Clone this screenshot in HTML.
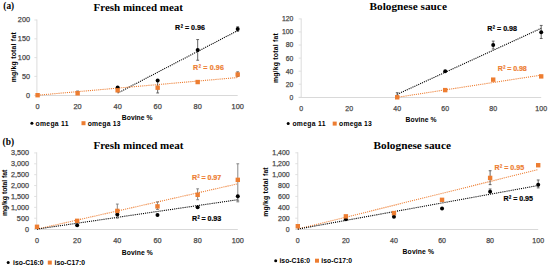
<!DOCTYPE html>
<html><head><meta charset="utf-8"><style>
html,body{margin:0;padding:0;background:#fff;width:550px;height:269px;overflow:hidden}
svg{display:block}
</style></head><body>
<svg width="550" height="269" viewBox="0 0 550 269">
<rect width="550" height="269" fill="#fff"/>
<line x1="36.9" y1="19.5" x2="36.9" y2="95.5" stroke="#D9D9D9" stroke-width="0.9"/>
<line x1="34.4" y1="95.5" x2="237.7" y2="95.5" stroke="#D9D9D9" stroke-width="1"/>
<line x1="34.4" y1="95.2" x2="36.9" y2="95.2" stroke="#D9D9D9" stroke-width="0.8"/>
<text x="30" y="97.6" font-size="7.6" text-anchor="end" font-weight="normal" fill="#474747" font-family='"Liberation Sans", sans-serif' textLength="4.05" lengthAdjust="spacingAndGlyphs" stroke="#474747" stroke-width="0.25">0</text>
<line x1="34.4" y1="76.4" x2="36.9" y2="76.4" stroke="#D9D9D9" stroke-width="0.8"/>
<text x="30" y="78.8" font-size="7.6" text-anchor="end" font-weight="normal" fill="#474747" font-family='"Liberation Sans", sans-serif' textLength="8.1" lengthAdjust="spacingAndGlyphs" stroke="#474747" stroke-width="0.25">50</text>
<line x1="34.4" y1="57.6" x2="36.9" y2="57.6" stroke="#D9D9D9" stroke-width="0.8"/>
<text x="30" y="60.0" font-size="7.6" text-anchor="end" font-weight="normal" fill="#474747" font-family='"Liberation Sans", sans-serif' textLength="12.15" lengthAdjust="spacingAndGlyphs" stroke="#474747" stroke-width="0.25">100</text>
<line x1="34.4" y1="38.800000000000004" x2="36.9" y2="38.800000000000004" stroke="#D9D9D9" stroke-width="0.8"/>
<text x="30" y="41.2" font-size="7.6" text-anchor="end" font-weight="normal" fill="#474747" font-family='"Liberation Sans", sans-serif' textLength="12.15" lengthAdjust="spacingAndGlyphs" stroke="#474747" stroke-width="0.25">150</text>
<line x1="34.4" y1="20.0" x2="36.9" y2="20.0" stroke="#D9D9D9" stroke-width="0.8"/>
<text x="30" y="22.4" font-size="7.6" text-anchor="end" font-weight="normal" fill="#474747" font-family='"Liberation Sans", sans-serif' textLength="12.15" lengthAdjust="spacingAndGlyphs" stroke="#474747" stroke-width="0.25">200</text>
<text x="37.6" y="108.8" font-size="7.6" text-anchor="middle" font-weight="normal" fill="#474747" font-family='"Liberation Sans", sans-serif' textLength="4.1" lengthAdjust="spacingAndGlyphs" stroke="#474747" stroke-width="0.25">0</text>
<text x="77.62" y="108.8" font-size="7.6" text-anchor="middle" font-weight="normal" fill="#474747" font-family='"Liberation Sans", sans-serif' textLength="8.2" lengthAdjust="spacingAndGlyphs" stroke="#474747" stroke-width="0.25">20</text>
<text x="117.64000000000001" y="108.8" font-size="7.6" text-anchor="middle" font-weight="normal" fill="#474747" font-family='"Liberation Sans", sans-serif' textLength="8.2" lengthAdjust="spacingAndGlyphs" stroke="#474747" stroke-width="0.25">40</text>
<text x="157.66" y="108.8" font-size="7.6" text-anchor="middle" font-weight="normal" fill="#474747" font-family='"Liberation Sans", sans-serif' textLength="8.2" lengthAdjust="spacingAndGlyphs" stroke="#474747" stroke-width="0.25">60</text>
<text x="197.68" y="108.8" font-size="7.6" text-anchor="middle" font-weight="normal" fill="#474747" font-family='"Liberation Sans", sans-serif' textLength="8.2" lengthAdjust="spacingAndGlyphs" stroke="#474747" stroke-width="0.25">80</text>
<text x="237.7" y="108.8" font-size="7.6" text-anchor="middle" font-weight="normal" fill="#474747" font-family='"Liberation Sans", sans-serif' textLength="12.3" lengthAdjust="spacingAndGlyphs" stroke="#474747" stroke-width="0.25">100</text>
<text transform="translate(16.3,57.3) rotate(-90) scale(0.9,1)" x="0" y="0" font-size="7.6" text-anchor="middle" font-weight="bold" fill="#000" font-family='"Liberation Sans", sans-serif' textLength="55.56" lengthAdjust="spacing">mg/kg total fat</text>
<text transform="translate(121.8,120.1) scale(0.88,1)" x="0" y="0" font-size="7.7" text-anchor="start" font-weight="bold" fill="#000" font-family='"Liberation Sans", sans-serif' textLength="34.89" lengthAdjust="spacing">Bovine %</text>
<text x="93.5" y="10.5" font-size="11" text-anchor="start" font-weight="bold" fill="#000" font-family='"Liberation Serif", serif' textLength="89.5" lengthAdjust="spacingAndGlyphs">Fresh minced meat</text>
<text x="3.3" y="9.0" font-size="9.6" text-anchor="start" font-weight="bold" fill="#000" font-family='"Liberation Serif", serif' textLength="10.8" lengthAdjust="spacingAndGlyphs">(a)</text>
<line x1="117.64000000000001" y1="93.09440000000001" x2="237.7" y2="30.6032" stroke="#000000" stroke-width="1.1" stroke-dasharray="1.1,1.0"/>
<line x1="37.6" y1="95.2" x2="237.7" y2="77.528" stroke="#ED7D31" stroke-width="1.1" stroke-dasharray="1.1,1.0"/>
<line x1="197.68" y1="39.552" x2="197.68" y2="60.232" stroke="#555555" stroke-width="0.9"/>
<line x1="196.28" y1="39.552" x2="199.08" y2="39.552" stroke="#555555" stroke-width="0.9"/>
<line x1="196.28" y1="60.232" x2="199.08" y2="60.232" stroke="#555555" stroke-width="0.9"/>
<line x1="157.66" y1="80.16" x2="157.66" y2="92.944" stroke="#555555" stroke-width="0.9"/>
<line x1="156.26" y1="80.16" x2="159.06" y2="80.16" stroke="#555555" stroke-width="0.9"/>
<line x1="156.26" y1="92.944" x2="159.06" y2="92.944" stroke="#555555" stroke-width="0.9"/>
<line x1="237.7" y1="71.888" x2="237.7" y2="76.4" stroke="#555555" stroke-width="0.9"/>
<line x1="236.29999999999998" y1="71.888" x2="239.1" y2="71.888" stroke="#555555" stroke-width="0.9"/>
<line x1="236.29999999999998" y1="76.4" x2="239.1" y2="76.4" stroke="#555555" stroke-width="0.9"/>
<line x1="117.64000000000001" y1="86.928" x2="117.64000000000001" y2="91.44" stroke="#555555" stroke-width="0.9"/>
<line x1="116.24000000000001" y1="86.928" x2="119.04000000000002" y2="86.928" stroke="#555555" stroke-width="0.9"/>
<line x1="116.24000000000001" y1="91.44" x2="119.04000000000002" y2="91.44" stroke="#555555" stroke-width="0.9"/>
<line x1="77.62" y1="91.06400000000001" x2="77.62" y2="94.072" stroke="#555555" stroke-width="0.9"/>
<line x1="76.22" y1="91.06400000000001" x2="79.02000000000001" y2="91.06400000000001" stroke="#555555" stroke-width="0.9"/>
<line x1="76.22" y1="94.072" x2="79.02000000000001" y2="94.072" stroke="#555555" stroke-width="0.9"/>
<line x1="237.7" y1="26.768" x2="237.7" y2="31.28" stroke="#555555" stroke-width="0.9"/>
<line x1="236.29999999999998" y1="26.768" x2="239.1" y2="26.768" stroke="#555555" stroke-width="0.9"/>
<line x1="236.29999999999998" y1="31.28" x2="239.1" y2="31.28" stroke="#555555" stroke-width="0.9"/>
<circle cx="117.64000000000001" cy="87.492" r="2.0" fill="#000000"/>
<circle cx="157.66" cy="80.536" r="2.0" fill="#000000"/>
<circle cx="197.68" cy="50.080000000000005" r="2.0" fill="#000000"/>
<circle cx="237.7" cy="28.911199999999994" r="2.0" fill="#000000"/>
<rect x="35.4" y="93.0" width="4.4" height="4.4" fill="#ED7D31"/>
<rect x="75.42" y="91.12" width="4.4" height="4.4" fill="#ED7D31"/>
<rect x="115.44000000000001" y="88.112" width="4.4" height="4.4" fill="#ED7D31"/>
<rect x="155.46" y="85.48" width="4.4" height="4.4" fill="#ED7D31"/>
<rect x="195.48000000000002" y="79.84" width="4.4" height="4.4" fill="#ED7D31"/>
<rect x="235.5" y="72.32000000000001" width="4.4" height="4.4" fill="#ED7D31"/>
<text transform="translate(175.1,30) scale(0.9,1)" x="0" y="0" font-size="7.9" font-weight="bold" fill="#000000" stroke="#000000" stroke-width="0.2" font-family='"Liberation Sans", sans-serif' textLength="33.22" lengthAdjust="spacing">R<tspan font-size="4.424" dx="0.5" dy="-2.0">2</tspan><tspan dy="2.0"> = 0.96</tspan></text>
<text transform="translate(193,70.4) scale(0.9,1)" x="0" y="0" font-size="7.9" font-weight="bold" fill="#ED7D31" stroke="#ED7D31" stroke-width="0.2" font-family='"Liberation Sans", sans-serif' textLength="34.33" lengthAdjust="spacing">R<tspan font-size="4.424" dx="0.5" dy="-2.0">2</tspan><tspan dy="2.0"> = 0.96</tspan></text>
<circle cx="31.9" cy="123.2" r="1.5" fill="#000000"/>
<text transform="translate(35.5,125.6) scale(0.86,1)" x="0" y="0" font-size="7.9" text-anchor="start" font-weight="bold" fill="#000" font-family='"Liberation Sans", sans-serif' textLength="38.49" lengthAdjust="spacing">omega 11</text>
<rect x="81.5" y="121.2" width="4" height="4" fill="#ED7D31"/>
<text transform="translate(87.7,125.6) scale(0.86,1)" x="0" y="0" font-size="7.9" text-anchor="start" font-weight="bold" fill="#000" font-family='"Liberation Sans", sans-serif' textLength="38.14" lengthAdjust="spacing">omega 13</text>
<line x1="301.2" y1="18.4" x2="301.2" y2="97.5" stroke="#D9D9D9" stroke-width="0.9"/>
<line x1="298.7" y1="97.5" x2="541.2" y2="97.5" stroke="#D9D9D9" stroke-width="1"/>
<line x1="298.7" y1="97.3" x2="301.2" y2="97.3" stroke="#D9D9D9" stroke-width="0.8"/>
<text x="293.3" y="99.7" font-size="7.6" text-anchor="end" font-weight="normal" fill="#474747" font-family='"Liberation Sans", sans-serif' textLength="3.8" lengthAdjust="spacingAndGlyphs" stroke="#474747" stroke-width="0.25">0</text>
<line x1="298.7" y1="84.23333333333333" x2="301.2" y2="84.23333333333333" stroke="#D9D9D9" stroke-width="0.8"/>
<text x="293.3" y="86.63" font-size="7.6" text-anchor="end" font-weight="normal" fill="#474747" font-family='"Liberation Sans", sans-serif' textLength="7.6" lengthAdjust="spacingAndGlyphs" stroke="#474747" stroke-width="0.25">20</text>
<line x1="298.7" y1="71.16666666666666" x2="301.2" y2="71.16666666666666" stroke="#D9D9D9" stroke-width="0.8"/>
<text x="293.3" y="73.57" font-size="7.6" text-anchor="end" font-weight="normal" fill="#474747" font-family='"Liberation Sans", sans-serif' textLength="7.6" lengthAdjust="spacingAndGlyphs" stroke="#474747" stroke-width="0.25">40</text>
<line x1="298.7" y1="58.099999999999994" x2="301.2" y2="58.099999999999994" stroke="#D9D9D9" stroke-width="0.8"/>
<text x="293.3" y="60.5" font-size="7.6" text-anchor="end" font-weight="normal" fill="#474747" font-family='"Liberation Sans", sans-serif' textLength="7.6" lengthAdjust="spacingAndGlyphs" stroke="#474747" stroke-width="0.25">60</text>
<line x1="298.7" y1="45.03333333333333" x2="301.2" y2="45.03333333333333" stroke="#D9D9D9" stroke-width="0.8"/>
<text x="293.3" y="47.43" font-size="7.6" text-anchor="end" font-weight="normal" fill="#474747" font-family='"Liberation Sans", sans-serif' textLength="7.6" lengthAdjust="spacingAndGlyphs" stroke="#474747" stroke-width="0.25">80</text>
<line x1="298.7" y1="31.966666666666654" x2="301.2" y2="31.966666666666654" stroke="#D9D9D9" stroke-width="0.8"/>
<text x="293.3" y="34.37" font-size="7.6" text-anchor="end" font-weight="normal" fill="#474747" font-family='"Liberation Sans", sans-serif' textLength="11.4" lengthAdjust="spacingAndGlyphs" stroke="#474747" stroke-width="0.25">100</text>
<line x1="298.7" y1="18.89999999999999" x2="301.2" y2="18.89999999999999" stroke="#D9D9D9" stroke-width="0.8"/>
<text x="293.3" y="21.3" font-size="7.6" text-anchor="end" font-weight="normal" fill="#474747" font-family='"Liberation Sans", sans-serif' textLength="11.4" lengthAdjust="spacingAndGlyphs" stroke="#474747" stroke-width="0.25">120</text>
<text x="301.2" y="110.6" font-size="7.6" text-anchor="middle" font-weight="normal" fill="#474747" font-family='"Liberation Sans", sans-serif' textLength="3.9" lengthAdjust="spacingAndGlyphs" stroke="#474747" stroke-width="0.25">0</text>
<text x="349.2" y="110.6" font-size="7.6" text-anchor="middle" font-weight="normal" fill="#474747" font-family='"Liberation Sans", sans-serif' textLength="7.8" lengthAdjust="spacingAndGlyphs" stroke="#474747" stroke-width="0.25">20</text>
<text x="397.2" y="110.6" font-size="7.6" text-anchor="middle" font-weight="normal" fill="#474747" font-family='"Liberation Sans", sans-serif' textLength="7.8" lengthAdjust="spacingAndGlyphs" stroke="#474747" stroke-width="0.25">40</text>
<text x="445.20000000000005" y="110.6" font-size="7.6" text-anchor="middle" font-weight="normal" fill="#474747" font-family='"Liberation Sans", sans-serif' textLength="7.8" lengthAdjust="spacingAndGlyphs" stroke="#474747" stroke-width="0.25">60</text>
<text x="493.20000000000005" y="110.6" font-size="7.6" text-anchor="middle" font-weight="normal" fill="#474747" font-family='"Liberation Sans", sans-serif' textLength="7.8" lengthAdjust="spacingAndGlyphs" stroke="#474747" stroke-width="0.25">80</text>
<text x="541.2" y="110.6" font-size="7.6" text-anchor="middle" font-weight="normal" fill="#474747" font-family='"Liberation Sans", sans-serif' textLength="11.7" lengthAdjust="spacingAndGlyphs" stroke="#474747" stroke-width="0.25">100</text>
<text transform="translate(278.0,58.2) rotate(-90) scale(0.9,1)" x="0" y="0" font-size="7.6" text-anchor="middle" font-weight="bold" fill="#000" font-family='"Liberation Sans", sans-serif' textLength="55.33" lengthAdjust="spacing">mg/kg total fat</text>
<text transform="translate(405.6,122) scale(0.88,1)" x="0" y="0" font-size="7.7" text-anchor="start" font-weight="bold" fill="#000" font-family='"Liberation Sans", sans-serif' textLength="35.23" lengthAdjust="spacing">Bovine %</text>
<text x="369.5" y="10.1" font-size="11" text-anchor="start" font-weight="bold" fill="#000" font-family='"Liberation Serif", serif' textLength="77.39999999999998" lengthAdjust="spacingAndGlyphs">Bolognese sauce</text>
<line x1="397.2" y1="94.29466666666666" x2="541.2" y2="28.307999999999993" stroke="#000000" stroke-width="1.1" stroke-dasharray="1.1,1.0"/>
<line x1="397.2" y1="97.3" x2="541.2" y2="75.08666666666666" stroke="#ED7D31" stroke-width="1.1" stroke-dasharray="1.1,1.0"/>
<line x1="541.2" y1="25.433333333333337" x2="541.2" y2="38.49999999999999" stroke="#555555" stroke-width="0.9"/>
<line x1="539.8000000000001" y1="25.433333333333337" x2="542.6" y2="25.433333333333337" stroke="#555555" stroke-width="0.9"/>
<line x1="539.8000000000001" y1="38.49999999999999" x2="542.6" y2="38.49999999999999" stroke="#555555" stroke-width="0.9"/>
<line x1="493.20000000000005" y1="41.11333333333332" x2="493.20000000000005" y2="48.953333333333326" stroke="#555555" stroke-width="0.9"/>
<line x1="491.80000000000007" y1="41.11333333333332" x2="494.6" y2="41.11333333333332" stroke="#555555" stroke-width="0.9"/>
<line x1="491.80000000000007" y1="48.953333333333326" x2="494.6" y2="48.953333333333326" stroke="#555555" stroke-width="0.9"/>
<line x1="397.2" y1="92.72666666666666" x2="397.2" y2="95.34" stroke="#555555" stroke-width="0.9"/>
<line x1="395.8" y1="92.72666666666666" x2="398.59999999999997" y2="92.72666666666666" stroke="#555555" stroke-width="0.9"/>
<line x1="395.8" y1="95.34" x2="398.59999999999997" y2="95.34" stroke="#555555" stroke-width="0.9"/>
<circle cx="445.20000000000005" cy="71.16666666666666" r="2.0" fill="#000000"/>
<circle cx="493.20000000000005" cy="45.03333333333333" r="2.0" fill="#000000"/>
<circle cx="541.2" cy="32.29333333333332" r="2.0" fill="#000000"/>
<rect x="395.0" y="95.1" width="4.4" height="4.4" fill="#ED7D31"/>
<rect x="443.00000000000006" y="87.91333333333333" width="4.4" height="4.4" fill="#ED7D31"/>
<rect x="491.00000000000006" y="77.46" width="4.4" height="4.4" fill="#ED7D31"/>
<rect x="539.0" y="74.19333333333333" width="4.4" height="4.4" fill="#ED7D31"/>
<text transform="translate(487.3,30.6) scale(0.9,1)" x="0" y="0" font-size="7.9" font-weight="bold" fill="#000000" stroke="#000000" stroke-width="0.2" font-family='"Liberation Sans", sans-serif' textLength="33.0" lengthAdjust="spacing">R<tspan font-size="4.424" dx="0.5" dy="-2.0">2</tspan><tspan dy="2.0"> = 0.98</tspan></text>
<text transform="translate(497.7,71) scale(0.9,1)" x="0" y="0" font-size="7.9" font-weight="bold" fill="#ED7D31" stroke="#ED7D31" stroke-width="0.2" font-family='"Liberation Sans", sans-serif' textLength="32.33" lengthAdjust="spacing">R<tspan font-size="4.424" dx="0.5" dy="-2.0">2</tspan><tspan dy="2.0"> = 0.98</tspan></text>
<circle cx="288.2" cy="123.6" r="1.5" fill="#000000"/>
<text transform="translate(292.4,125.6) scale(0.86,1)" x="0" y="0" font-size="7.9" text-anchor="start" font-weight="bold" fill="#000" font-family='"Liberation Sans", sans-serif' textLength="38.49" lengthAdjust="spacing">omega 11</text>
<rect x="332.7" y="121.6" width="4" height="4" fill="#ED7D31"/>
<text transform="translate(339.1,125.6) scale(0.86,1)" x="0" y="0" font-size="7.9" text-anchor="start" font-weight="bold" fill="#000" font-family='"Liberation Sans", sans-serif' textLength="38.02" lengthAdjust="spacing">omega 13</text>
<line x1="36.7" y1="152.4" x2="36.7" y2="229.5" stroke="#D9D9D9" stroke-width="0.9"/>
<line x1="34.2" y1="229.5" x2="237.8" y2="229.5" stroke="#D9D9D9" stroke-width="1"/>
<line x1="34.2" y1="229.1" x2="36.7" y2="229.1" stroke="#D9D9D9" stroke-width="0.8"/>
<text x="29" y="231.5" font-size="7.6" text-anchor="end" font-weight="normal" fill="#474747" font-family='"Liberation Sans", sans-serif' textLength="4.05" lengthAdjust="spacingAndGlyphs" stroke="#474747" stroke-width="0.25">0</text>
<line x1="34.2" y1="218.21428571428572" x2="36.7" y2="218.21428571428572" stroke="#D9D9D9" stroke-width="0.8"/>
<text x="29" y="220.61" font-size="7.6" text-anchor="end" font-weight="normal" fill="#474747" font-family='"Liberation Sans", sans-serif' textLength="12.15" lengthAdjust="spacingAndGlyphs" stroke="#474747" stroke-width="0.25">500</text>
<line x1="34.2" y1="207.32857142857142" x2="36.7" y2="207.32857142857142" stroke="#D9D9D9" stroke-width="0.8"/>
<text x="29" y="209.73" font-size="7.6" text-anchor="end" font-weight="normal" fill="#474747" font-family='"Liberation Sans", sans-serif' textLength="18.1" lengthAdjust="spacingAndGlyphs" stroke="#474747" stroke-width="0.25">1,000</text>
<line x1="34.2" y1="196.44285714285715" x2="36.7" y2="196.44285714285715" stroke="#D9D9D9" stroke-width="0.8"/>
<text x="29" y="198.84" font-size="7.6" text-anchor="end" font-weight="normal" fill="#474747" font-family='"Liberation Sans", sans-serif' textLength="18.1" lengthAdjust="spacingAndGlyphs" stroke="#474747" stroke-width="0.25">1,500</text>
<line x1="34.2" y1="185.55714285714285" x2="36.7" y2="185.55714285714285" stroke="#D9D9D9" stroke-width="0.8"/>
<text x="29" y="187.96" font-size="7.6" text-anchor="end" font-weight="normal" fill="#474747" font-family='"Liberation Sans", sans-serif' textLength="18.1" lengthAdjust="spacingAndGlyphs" stroke="#474747" stroke-width="0.25">2,000</text>
<line x1="34.2" y1="174.67142857142858" x2="36.7" y2="174.67142857142858" stroke="#D9D9D9" stroke-width="0.8"/>
<text x="29" y="177.07" font-size="7.6" text-anchor="end" font-weight="normal" fill="#474747" font-family='"Liberation Sans", sans-serif' textLength="18.1" lengthAdjust="spacingAndGlyphs" stroke="#474747" stroke-width="0.25">2,500</text>
<line x1="34.2" y1="163.78571428571428" x2="36.7" y2="163.78571428571428" stroke="#D9D9D9" stroke-width="0.8"/>
<text x="29" y="166.19" font-size="7.6" text-anchor="end" font-weight="normal" fill="#474747" font-family='"Liberation Sans", sans-serif' textLength="18.1" lengthAdjust="spacingAndGlyphs" stroke="#474747" stroke-width="0.25">3,000</text>
<line x1="34.2" y1="152.9" x2="36.7" y2="152.9" stroke="#D9D9D9" stroke-width="0.8"/>
<text x="29" y="155.3" font-size="7.6" text-anchor="end" font-weight="normal" fill="#474747" font-family='"Liberation Sans", sans-serif' textLength="18.1" lengthAdjust="spacingAndGlyphs" stroke="#474747" stroke-width="0.25">3,500</text>
<text x="37.0" y="242.7" font-size="7.6" text-anchor="middle" font-weight="normal" fill="#474747" font-family='"Liberation Sans", sans-serif' textLength="4.05" lengthAdjust="spacingAndGlyphs" stroke="#474747" stroke-width="0.25">0</text>
<text x="77.16" y="242.7" font-size="7.6" text-anchor="middle" font-weight="normal" fill="#474747" font-family='"Liberation Sans", sans-serif' textLength="8.1" lengthAdjust="spacingAndGlyphs" stroke="#474747" stroke-width="0.25">20</text>
<text x="117.32" y="242.7" font-size="7.6" text-anchor="middle" font-weight="normal" fill="#474747" font-family='"Liberation Sans", sans-serif' textLength="8.1" lengthAdjust="spacingAndGlyphs" stroke="#474747" stroke-width="0.25">40</text>
<text x="157.48000000000002" y="242.7" font-size="7.6" text-anchor="middle" font-weight="normal" fill="#474747" font-family='"Liberation Sans", sans-serif' textLength="8.1" lengthAdjust="spacingAndGlyphs" stroke="#474747" stroke-width="0.25">60</text>
<text x="197.64" y="242.7" font-size="7.6" text-anchor="middle" font-weight="normal" fill="#474747" font-family='"Liberation Sans", sans-serif' textLength="8.1" lengthAdjust="spacingAndGlyphs" stroke="#474747" stroke-width="0.25">80</text>
<text x="237.8" y="242.7" font-size="7.6" text-anchor="middle" font-weight="normal" fill="#474747" font-family='"Liberation Sans", sans-serif' textLength="12.15" lengthAdjust="spacingAndGlyphs" stroke="#474747" stroke-width="0.25">100</text>
<text transform="translate(7.1,192.8) rotate(-90) scale(0.9,1)" x="0" y="0" font-size="7.6" text-anchor="middle" font-weight="bold" fill="#000" font-family='"Liberation Sans", sans-serif' textLength="51.56" lengthAdjust="spacing">mg/kg total fat</text>
<text transform="translate(121.8,254.6) scale(0.88,1)" x="0" y="0" font-size="7.7" text-anchor="start" font-weight="bold" fill="#000" font-family='"Liberation Sans", sans-serif' textLength="35.11" lengthAdjust="spacing">Bovine %</text>
<text x="93.4" y="149.2" font-size="11" text-anchor="start" font-weight="bold" fill="#000" font-family='"Liberation Serif", serif' textLength="90.0" lengthAdjust="spacingAndGlyphs">Fresh minced meat</text>
<text x="2.6" y="144.6" font-size="9.6" text-anchor="start" font-weight="bold" fill="#000" font-family='"Liberation Serif", serif' textLength="11.5" lengthAdjust="spacingAndGlyphs">(b)</text>
<line x1="37.0" y1="229.1" x2="237.8" y2="183.81542857142858" stroke="#ED7D31" stroke-width="1.1" stroke-dasharray="1.1,1.0"/>
<line x1="37.0" y1="229.1" x2="237.8" y2="199.70857142857142" stroke="#000000" stroke-width="1.1" stroke-dasharray="1.1,1.0"/>
<line x1="237.8" y1="163.78571428571428" x2="237.8" y2="200.79714285714286" stroke="#7a7a7a" stroke-width="0.9"/>
<line x1="236.4" y1="163.78571428571428" x2="239.20000000000002" y2="163.78571428571428" stroke="#7a7a7a" stroke-width="0.9"/>
<line x1="236.4" y1="200.79714285714286" x2="239.20000000000002" y2="200.79714285714286" stroke="#7a7a7a" stroke-width="0.9"/>
<line x1="197.64" y1="188.82285714285715" x2="197.64" y2="199.70857142857142" stroke="#7a7a7a" stroke-width="0.9"/>
<line x1="196.23999999999998" y1="188.82285714285715" x2="199.04" y2="188.82285714285715" stroke="#7a7a7a" stroke-width="0.9"/>
<line x1="196.23999999999998" y1="199.70857142857142" x2="199.04" y2="199.70857142857142" stroke="#7a7a7a" stroke-width="0.9"/>
<line x1="157.48000000000002" y1="201.88571428571427" x2="157.48000000000002" y2="209.50571428571428" stroke="#7a7a7a" stroke-width="0.9"/>
<line x1="156.08" y1="201.88571428571427" x2="158.88000000000002" y2="201.88571428571427" stroke="#7a7a7a" stroke-width="0.9"/>
<line x1="156.08" y1="209.50571428571428" x2="158.88000000000002" y2="209.50571428571428" stroke="#7a7a7a" stroke-width="0.9"/>
<line x1="117.32" y1="204.06285714285713" x2="117.32" y2="218.21428571428572" stroke="#7a7a7a" stroke-width="0.9"/>
<line x1="115.91999999999999" y1="204.06285714285713" x2="118.72" y2="204.06285714285713" stroke="#7a7a7a" stroke-width="0.9"/>
<line x1="115.91999999999999" y1="218.21428571428572" x2="118.72" y2="218.21428571428572" stroke="#7a7a7a" stroke-width="0.9"/>
<line x1="237.8" y1="196.44285714285715" x2="237.8" y2="201.88571428571427" stroke="#7a7a7a" stroke-width="0.9"/>
<line x1="236.4" y1="196.44285714285715" x2="239.20000000000002" y2="196.44285714285715" stroke="#7a7a7a" stroke-width="0.9"/>
<line x1="236.4" y1="201.88571428571427" x2="239.20000000000002" y2="201.88571428571427" stroke="#7a7a7a" stroke-width="0.9"/>
<circle cx="77.16" cy="225.29" r="2.0" fill="#000000"/>
<circle cx="117.32" cy="214.40428571428572" r="2.0" fill="#000000"/>
<circle cx="157.48000000000002" cy="214.99211428571428" r="2.0" fill="#000000"/>
<circle cx="197.64" cy="207.21971428571428" r="2.0" fill="#000000"/>
<circle cx="237.8" cy="196.15982857142856" r="2.0" fill="#000000"/>
<rect x="34.8" y="224.59222857142856" width="4.4" height="4.4" fill="#ED7D31"/>
<rect x="74.96" y="218.62685714285715" width="4.4" height="4.4" fill="#ED7D31"/>
<rect x="115.11999999999999" y="208.69908571428573" width="4.4" height="4.4" fill="#ED7D31"/>
<rect x="155.28000000000003" y="204.19240000000002" width="4.4" height="4.4" fill="#ED7D31"/>
<rect x="195.44" y="192.61" width="4.4" height="4.4" fill="#ED7D31"/>
<rect x="235.60000000000002" y="177.6530285714286" width="4.4" height="4.4" fill="#ED7D31"/>
<text transform="translate(192.1,179.6) scale(0.9,1)" x="0" y="0" font-size="7.9" font-weight="bold" fill="#ED7D31" stroke="#ED7D31" stroke-width="0.2" font-family='"Liberation Sans", sans-serif' textLength="32.22" lengthAdjust="spacing">R<tspan font-size="4.424" dx="0.5" dy="-2.0">2</tspan><tspan dy="2.0"> = 0.97</tspan></text>
<text transform="translate(192.1,220.7) scale(0.9,1)" x="0" y="0" font-size="7.9" font-weight="bold" fill="#000000" stroke="#000000" stroke-width="0.2" font-family='"Liberation Sans", sans-serif' textLength="32.22" lengthAdjust="spacing">R<tspan font-size="4.424" dx="0.5" dy="-2.0">2</tspan><tspan dy="2.0"> = 0.93</tspan></text>
<circle cx="8.2" cy="262.6" r="1.5" fill="#000000"/>
<text transform="translate(13.1,265) scale(0.86,1)" x="0" y="0" font-size="7.9" text-anchor="start" font-weight="bold" fill="#000" font-family='"Liberation Sans", sans-serif' textLength="35.47" lengthAdjust="spacing">iso-C16:0</text>
<rect x="47.8" y="260.6" width="4" height="4" fill="#ED7D31"/>
<text transform="translate(54.5,265) scale(0.86,1)" x="0" y="0" font-size="7.9" text-anchor="start" font-weight="bold" fill="#000" font-family='"Liberation Sans", sans-serif' textLength="35.58" lengthAdjust="spacing">iso-C17:0</text>
<line x1="297.8" y1="152.3" x2="297.8" y2="229.5" stroke="#D9D9D9" stroke-width="0.9"/>
<line x1="295.3" y1="229.5" x2="538.2" y2="229.5" stroke="#D9D9D9" stroke-width="1"/>
<line x1="295.3" y1="229.1" x2="297.8" y2="229.1" stroke="#D9D9D9" stroke-width="0.8"/>
<text x="289.7" y="231.5" font-size="7.6" text-anchor="end" font-weight="normal" fill="#474747" font-family='"Liberation Sans", sans-serif' textLength="3.87" lengthAdjust="spacingAndGlyphs" stroke="#474747" stroke-width="0.25">0</text>
<line x1="295.3" y1="218.2" x2="297.8" y2="218.2" stroke="#D9D9D9" stroke-width="0.8"/>
<text x="289.7" y="220.6" font-size="7.6" text-anchor="end" font-weight="normal" fill="#474747" font-family='"Liberation Sans", sans-serif' textLength="11.61" lengthAdjust="spacingAndGlyphs" stroke="#474747" stroke-width="0.25">200</text>
<line x1="295.3" y1="207.3" x2="297.8" y2="207.3" stroke="#D9D9D9" stroke-width="0.8"/>
<text x="289.7" y="209.7" font-size="7.6" text-anchor="end" font-weight="normal" fill="#474747" font-family='"Liberation Sans", sans-serif' textLength="11.61" lengthAdjust="spacingAndGlyphs" stroke="#474747" stroke-width="0.25">400</text>
<line x1="295.3" y1="196.4" x2="297.8" y2="196.4" stroke="#D9D9D9" stroke-width="0.8"/>
<text x="289.7" y="198.8" font-size="7.6" text-anchor="end" font-weight="normal" fill="#474747" font-family='"Liberation Sans", sans-serif' textLength="11.61" lengthAdjust="spacingAndGlyphs" stroke="#474747" stroke-width="0.25">600</text>
<line x1="295.3" y1="185.5" x2="297.8" y2="185.5" stroke="#D9D9D9" stroke-width="0.8"/>
<text x="289.7" y="187.9" font-size="7.6" text-anchor="end" font-weight="normal" fill="#474747" font-family='"Liberation Sans", sans-serif' textLength="11.61" lengthAdjust="spacingAndGlyphs" stroke="#474747" stroke-width="0.25">800</text>
<line x1="295.3" y1="174.6" x2="297.8" y2="174.6" stroke="#D9D9D9" stroke-width="0.8"/>
<text x="289.7" y="177.0" font-size="7.6" text-anchor="end" font-weight="normal" fill="#474747" font-family='"Liberation Sans", sans-serif' textLength="17.38" lengthAdjust="spacingAndGlyphs" stroke="#474747" stroke-width="0.25">1,000</text>
<line x1="295.3" y1="163.7" x2="297.8" y2="163.7" stroke="#D9D9D9" stroke-width="0.8"/>
<text x="289.7" y="166.1" font-size="7.6" text-anchor="end" font-weight="normal" fill="#474747" font-family='"Liberation Sans", sans-serif' textLength="17.38" lengthAdjust="spacingAndGlyphs" stroke="#474747" stroke-width="0.25">1,200</text>
<line x1="295.3" y1="152.8" x2="297.8" y2="152.8" stroke="#D9D9D9" stroke-width="0.8"/>
<text x="289.7" y="155.2" font-size="7.6" text-anchor="end" font-weight="normal" fill="#474747" font-family='"Liberation Sans", sans-serif' textLength="17.38" lengthAdjust="spacingAndGlyphs" stroke="#474747" stroke-width="0.25">1,400</text>
<text x="297.8" y="242.8" font-size="7.6" text-anchor="middle" font-weight="normal" fill="#474747" font-family='"Liberation Sans", sans-serif' textLength="3.9" lengthAdjust="spacingAndGlyphs" stroke="#474747" stroke-width="0.25">0</text>
<text x="345.88" y="242.8" font-size="7.6" text-anchor="middle" font-weight="normal" fill="#474747" font-family='"Liberation Sans", sans-serif' textLength="7.8" lengthAdjust="spacingAndGlyphs" stroke="#474747" stroke-width="0.25">20</text>
<text x="393.96000000000004" y="242.8" font-size="7.6" text-anchor="middle" font-weight="normal" fill="#474747" font-family='"Liberation Sans", sans-serif' textLength="7.8" lengthAdjust="spacingAndGlyphs" stroke="#474747" stroke-width="0.25">40</text>
<text x="442.04" y="242.8" font-size="7.6" text-anchor="middle" font-weight="normal" fill="#474747" font-family='"Liberation Sans", sans-serif' textLength="7.8" lengthAdjust="spacingAndGlyphs" stroke="#474747" stroke-width="0.25">60</text>
<text x="490.12000000000006" y="242.8" font-size="7.6" text-anchor="middle" font-weight="normal" fill="#474747" font-family='"Liberation Sans", sans-serif' textLength="7.8" lengthAdjust="spacingAndGlyphs" stroke="#474747" stroke-width="0.25">80</text>
<text x="538.2" y="242.8" font-size="7.6" text-anchor="middle" font-weight="normal" fill="#474747" font-family='"Liberation Sans", sans-serif' textLength="11.7" lengthAdjust="spacingAndGlyphs" stroke="#474747" stroke-width="0.25">100</text>
<text transform="translate(268.2,192.0) rotate(-90) scale(0.9,1)" x="0" y="0" font-size="7.6" text-anchor="middle" font-weight="bold" fill="#000" font-family='"Liberation Sans", sans-serif' textLength="54.78" lengthAdjust="spacing">mg/kg total fat</text>
<text transform="translate(402.6,254.2) scale(0.88,1)" x="0" y="0" font-size="7.7" text-anchor="start" font-weight="bold" fill="#000" font-family='"Liberation Sans", sans-serif' textLength="35.68" lengthAdjust="spacing">Bovine %</text>
<text x="373.6" y="149.4" font-size="11" text-anchor="start" font-weight="bold" fill="#000" font-family='"Liberation Serif", serif' textLength="77.29999999999995" lengthAdjust="spacingAndGlyphs">Bolognese sauce</text>
<line x1="297.8" y1="229.1" x2="538.2" y2="169.5315" stroke="#ED7D31" stroke-width="1.1" stroke-dasharray="1.1,1.0"/>
<line x1="297.8" y1="229.1" x2="538.2" y2="185.5" stroke="#000000" stroke-width="1.1" stroke-dasharray="1.1,1.0"/>
<line x1="490.12000000000006" y1="170.7305" x2="490.12000000000006" y2="184.628" stroke="#555555" stroke-width="0.9"/>
<line x1="488.7200000000001" y1="170.7305" x2="491.52000000000004" y2="170.7305" stroke="#555555" stroke-width="0.9"/>
<line x1="488.7200000000001" y1="184.628" x2="491.52000000000004" y2="184.628" stroke="#555555" stroke-width="0.9"/>
<line x1="490.12000000000006" y1="188.988" x2="490.12000000000006" y2="191.2225" stroke="#555555" stroke-width="0.9"/>
<line x1="488.7200000000001" y1="188.988" x2="491.52000000000004" y2="188.988" stroke="#555555" stroke-width="0.9"/>
<line x1="488.7200000000001" y1="191.2225" x2="491.52000000000004" y2="191.2225" stroke="#555555" stroke-width="0.9"/>
<line x1="538.2" y1="179.9955" x2="538.2" y2="187.898" stroke="#555555" stroke-width="0.9"/>
<line x1="536.8000000000001" y1="179.9955" x2="539.6" y2="179.9955" stroke="#555555" stroke-width="0.9"/>
<line x1="536.8000000000001" y1="187.898" x2="539.6" y2="187.898" stroke="#555555" stroke-width="0.9"/>
<circle cx="345.88" cy="219.1265" r="2.0" fill="#000000"/>
<circle cx="393.96000000000004" cy="216.783" r="2.0" fill="#000000"/>
<circle cx="442.04" cy="208.39" r="2.0" fill="#000000"/>
<circle cx="490.12000000000006" cy="191.713" r="2.0" fill="#000000"/>
<circle cx="538.2" cy="184.628" r="2.0" fill="#000000"/>
<rect x="295.6" y="224.0115" width="4.4" height="4.4" fill="#ED7D31"/>
<rect x="343.68" y="214.14700000000002" width="4.4" height="4.4" fill="#ED7D31"/>
<rect x="391.76000000000005" y="210.877" width="4.4" height="4.4" fill="#ED7D31"/>
<rect x="439.84000000000003" y="197.63350000000003" width="4.4" height="4.4" fill="#ED7D31"/>
<rect x="487.9200000000001" y="175.72450000000003" width="4.4" height="4.4" fill="#ED7D31"/>
<rect x="536.0" y="163.026" width="4.4" height="4.4" fill="#ED7D31"/>
<text transform="translate(494.5,169.6) scale(0.9,1)" x="0" y="0" font-size="7.9" font-weight="bold" fill="#ED7D31" stroke="#ED7D31" stroke-width="0.2" font-family='"Liberation Sans", sans-serif' textLength="32.89" lengthAdjust="spacing">R<tspan font-size="4.424" dx="0.5" dy="-2.0">2</tspan><tspan dy="2.0"> = 0.95</tspan></text>
<text transform="translate(503.4,201.3) scale(0.9,1)" x="0" y="0" font-size="7.9" font-weight="bold" fill="#000000" stroke="#000000" stroke-width="0.2" font-family='"Liberation Sans", sans-serif' textLength="32.89" lengthAdjust="spacing">R<tspan font-size="4.424" dx="0.5" dy="-2.0">2</tspan><tspan dy="2.0"> = 0.95</tspan></text>
<circle cx="275.7" cy="260.7" r="1.5" fill="#000000"/>
<text transform="translate(279.5,262.8) scale(0.86,1)" x="0" y="0" font-size="7.9" text-anchor="start" font-weight="bold" fill="#000" font-family='"Liberation Sans", sans-serif' textLength="35.47" lengthAdjust="spacing">iso-C16:0</text>
<rect x="315.0" y="258.7" width="4" height="4" fill="#ED7D31"/>
<text transform="translate(321.3,262.8) scale(0.86,1)" x="0" y="0" font-size="7.9" text-anchor="start" font-weight="bold" fill="#000" font-family='"Liberation Sans", sans-serif' textLength="35.81" lengthAdjust="spacing">iso-C17:0</text>
</svg>
</body></html>
